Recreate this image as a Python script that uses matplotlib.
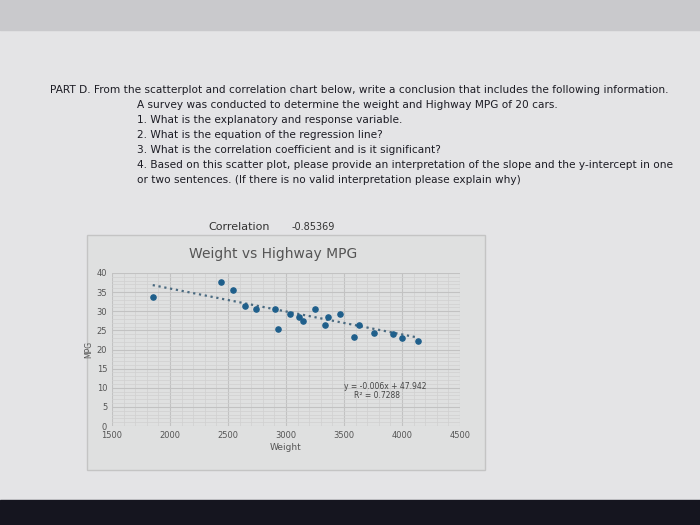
import matplotlib
matplotlib.use("Agg")
import matplotlib.pyplot as plt
from matplotlib.patches import Rectangle

weight = [1851, 2437, 2546, 2649, 2741, 2905, 2928, 3037, 3115, 3149,
          3253, 3334, 3359, 3466, 3589, 3632, 3759, 3925, 4003, 4141]
mpg = [33.6, 37.6, 35.5, 31.5, 30.6, 30.5, 25.3, 29.4, 28.6, 27.5,
       30.5, 26.5, 28.5, 29.4, 23.3, 26.3, 24.3, 24.1, 23.0, 22.2]
slope, intercept = -0.006, 47.942
x_ticks = [1500, 2000, 2500, 3000, 3500, 4000, 4500]
y_ticks = [0, 5, 10, 15, 20, 25, 30, 35, 40]

header = "PART D. From the scatterplot and correlation chart below, write a conclusion that includes the following information."
lines = [
    "A survey was conducted to determine the weight and Highway MPG of 20 cars.",
    "1. What is the explanatory and response variable.",
    "2. What is the equation of the regression line?",
    "3. What is the correlation coefficient and is it significant?",
    "4. Based on this scatter plot, please provide an interpretation of the slope and the y-intercept in one",
    "or two sentences. (If there is no valid interpretation please explain why)",
]

W, H = 700, 525
fig = plt.figure(figsize=(7, 5.25), dpi=100)
fig.patch.set_facecolor("#e4e4e6")
fx = lambda px: px / W
fy = lambda py: 1 - py / H

# page bands
fig.patches.append(Rectangle((0, fy(30)), 1, fy(0) - fy(30), transform=fig.transFigure,
                             color="#c9c9cc", zorder=-2))
fig.patches.append(Rectangle((0, 0), 1, fy(500), transform=fig.transFigure,
                             color="#15151f", zorder=-2))
# chart frame
fig.patches.append(Rectangle((fx(87), fy(470)), fx(485) - fx(87), fy(235) - fy(470),
                             transform=fig.transFigure, facecolor="#dfe0e0",
                             edgecolor="#c4c4c4", zorder=-1))

fig.text(fx(50), fy(90), header, fontsize=7.6, color="#1c1c24", va="center")
for i, t in enumerate(lines):
    fig.text(fx(137), fy(105 + 15 * i), t, fontsize=7.6, color="#1c1c24", va="center")

fig.text(fx(208), fy(227), "Correlation", fontsize=8, color="#333", va="center")
fig.text(fx(292), fy(227), "-0.85369", fontsize=7, color="#333", va="center")
fig.text(fx(273), fy(254), "Weight vs Highway MPG", fontsize=10, color="#555",
         ha="center", va="center")

ax = fig.add_axes([fx(112), fy(426), fx(460) - fx(112), fy(273) - fy(426)])
ax.set_zorder(5)
ax.set_facecolor("#dfe0e0")
ax.set_xlim(1500, 4500)
ax.set_ylim(0, 40)
ax.set_xticks(x_ticks)
ax.set_yticks(y_ticks)
ax.set_xticks(range(1500, 4501, 100), minor=True)
ax.set_yticks(range(0, 41, 1), minor=True)
ax.grid(which="major", color="#c2c2c2", linewidth=0.8)
ax.grid(which="minor", color="#d0d0d0", linewidth=0.5)
for s in ax.spines.values():
    s.set_visible(False)
ax.tick_params(which="both", length=0, labelsize=6, colors="#555")

xs = [min(weight), max(weight)]
ax.plot(xs, [slope * v + intercept for v in xs], linestyle=":", color="#4a6a80", linewidth=1.6)
ax.scatter(weight, mpg, s=14, color="#1f5f8b", zorder=3)

ax.text(3500, 9.8, f"y = {slope}x + {intercept}", fontsize=5.5, color="#444")
ax.text(3590, 7.2, "R² = 0.7288", fontsize=5.5, color="#444")
ax.set_xlabel("Weight", fontsize=6.5, color="#555", labelpad=2)
ax.set_ylabel("MPG", fontsize=5.5, color="#555", labelpad=2)

fig.savefig("out.png")
